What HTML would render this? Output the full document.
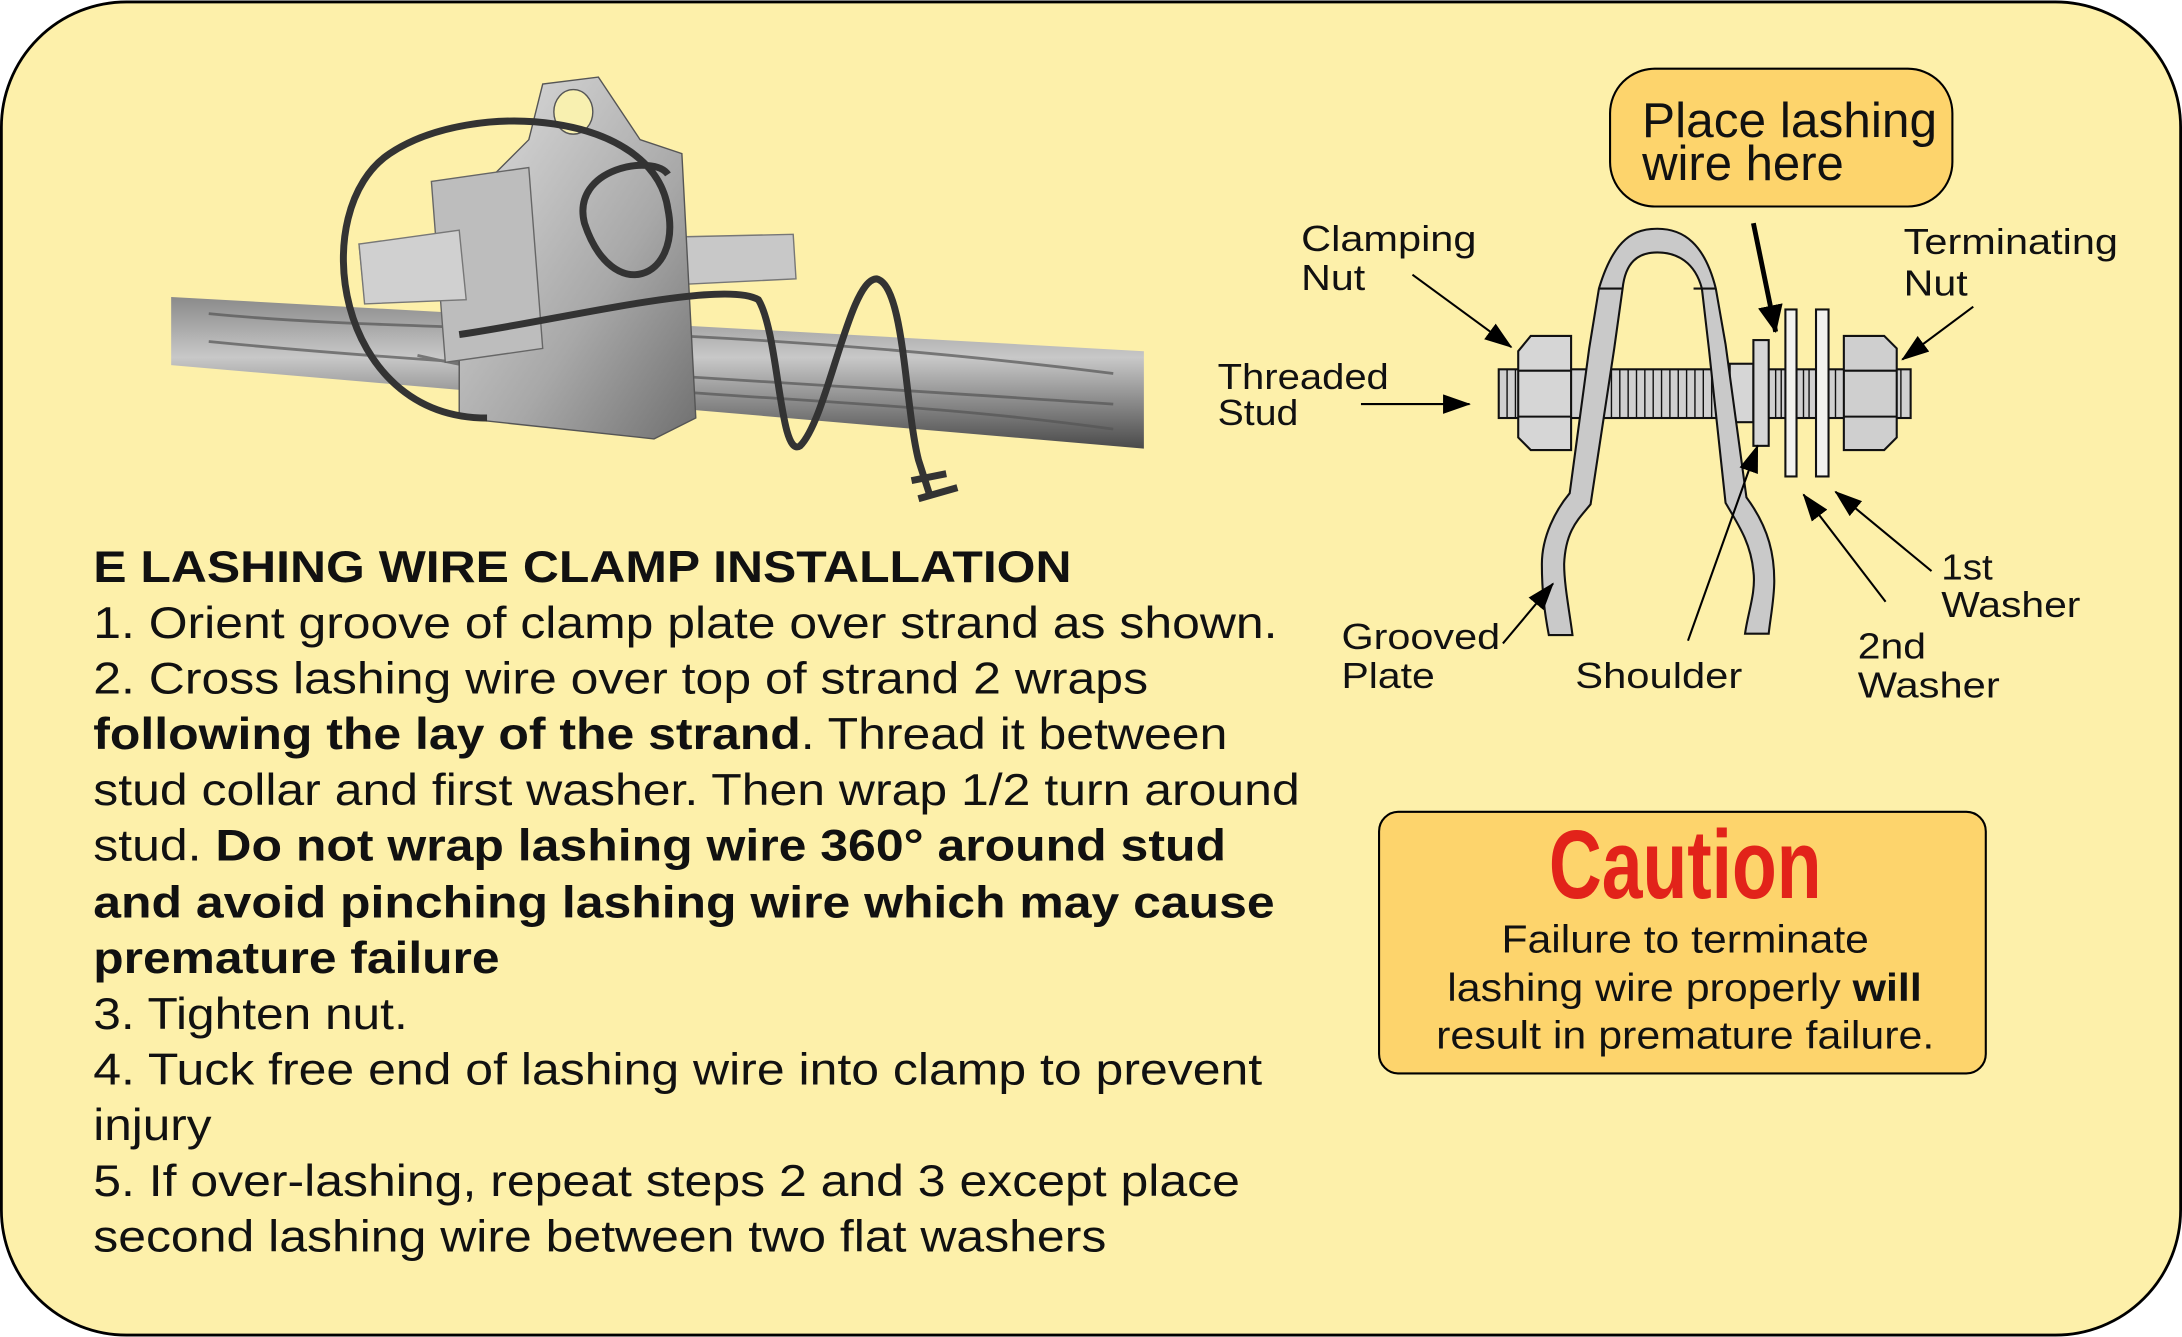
<!DOCTYPE html>
<html><head><meta charset="utf-8"><style>
html,body{margin:0;padding:0;background:#fff}
svg{display:block}
text{font-family:"Liberation Sans",Arial,sans-serif;fill:#111}
</style></head><body>
<svg width="2182" height="1337" viewBox="0 0 1568 960" xmlns="http://www.w3.org/2000/svg">
<defs>
<marker id="ah" viewBox="0 0 20 14" refX="19" refY="7" markerUnits="userSpaceOnUse" markerWidth="20" markerHeight="14" orient="auto"><path d="M0,0 L20,7 L0,14 z" fill="#000"/></marker>
<marker id="ah2" viewBox="0 0 20 18" refX="19" refY="9" markerUnits="userSpaceOnUse" markerWidth="20" markerHeight="18" orient="auto"><path d="M0,0 L20,9 L0,18 z" fill="#000"/></marker>
<linearGradient id="sg" x1="0" y1="0" x2="0" y2="1"><stop offset="0" stop-color="#8a8a8a"/><stop offset=".4" stop-color="#c8c8c8"/><stop offset="1" stop-color="#4a4a4a"/></linearGradient>
<linearGradient id="cg" x1="0" y1="0" x2="1" y2="1"><stop offset="0" stop-color="#e0e0e0"/><stop offset=".6" stop-color="#a8a8a8"/><stop offset="1" stop-color="#707070"/></linearGradient>
</defs>
<rect x="1" y="1" width="1566" height="958" rx="90" fill="#fdf0aa" stroke="#000" stroke-width="2"/>

<!-- photo approximation -->
<polygon points="123,213 822,252 822,322 123,262" fill="url(#sg)"/>
<g stroke="#555" stroke-width="2" opacity=".7" fill="none">
<path d="M150,225 C300,240 500,230 800,268"/><path d="M150,245 C300,260 500,270 800,290"/><path d="M300,255 C450,290 600,280 800,308"/>
</g>
<polygon points="258,175 570,168 572,200 262,215" fill="#c8c8c8" stroke="#777"/>
<polygon points="380,100 390,60 430,55 460,100 490,110 500,300 470,315 330,300 330,150" fill="url(#cg)" stroke="#555"/>
<polygon points="310,130 380,120 390,250 320,260" fill="#bdbdbd" stroke="#666"/>
<polygon points="258,175 330,165 335,215 262,218" fill="#d0d0d0" stroke="#777"/>
<ellipse cx="412" cy="80" rx="14" ry="16" fill="#f8f0b0" stroke="#555"/>
<path d="M350,300 C240,300 220,150 280,110 C340,70 470,80 480,150 C490,200 440,220 420,160 C410,120 470,110 480,125" fill="none" stroke="#333" stroke-width="5"/>
<path d="M330,240 C400,230 520,200 545,215 C560,240 560,330 575,320 C595,300 610,200 630,200 C650,205 650,290 660,330 L668,355" fill="none" stroke="#333" stroke-width="5"/>
<path d="M655,345 L680,340 M660,358 L688,350" stroke="#333" stroke-width="5"/>

<!-- text block -->
<g font-size="32">
<text x="67" y="418" font-weight="bold" textLength="703" lengthAdjust="spacingAndGlyphs">E LASHING WIRE CLAMP INSTALLATION</text>
<text x="67" y="458" textLength="851" lengthAdjust="spacingAndGlyphs">1. Orient groove of clamp plate over strand as shown.</text>
<text x="67" y="498" textLength="758" lengthAdjust="spacingAndGlyphs">2. Cross lashing wire over top of strand 2 wraps</text>
<text x="67" y="538" textLength="815" lengthAdjust="spacingAndGlyphs"><tspan font-weight="bold">following the lay of the strand</tspan>. Thread it between</text>
<text x="67" y="578" textLength="867" lengthAdjust="spacingAndGlyphs">stud collar and first washer. Then wrap 1/2 turn around</text>
<text x="67" y="618" textLength="814" lengthAdjust="spacingAndGlyphs">stud. <tspan font-weight="bold">Do not wrap lashing wire 360° around stud</tspan></text>
<text x="67" y="659" font-weight="bold" textLength="849" lengthAdjust="spacingAndGlyphs">and avoid pinching lashing wire which may cause</text>
<text x="67" y="699" font-weight="bold" textLength="292" lengthAdjust="spacingAndGlyphs">premature failure</text>
<text x="67" y="739" textLength="226" lengthAdjust="spacingAndGlyphs">3. Tighten nut.</text>
<text x="67" y="779" textLength="840" lengthAdjust="spacingAndGlyphs">4. Tuck free end of lashing wire into clamp to prevent</text>
<text x="67" y="819" textLength="85" lengthAdjust="spacingAndGlyphs">injury</text>
<text x="67" y="859" textLength="824" lengthAdjust="spacingAndGlyphs">5. If over-lashing, repeat steps 2 and 3 except place</text>
<text x="67" y="899" textLength="728" lengthAdjust="spacingAndGlyphs">second lashing wire between two flat washers</text>
</g>

<!-- place lashing box -->
<rect x="1157" y="49" width="246" height="99" rx="32" fill="#fdd46c" stroke="#000" stroke-width="1.5"/>
<text x="1180" y="98" font-size="35" fill="#222" textLength="212" lengthAdjust="spacingAndGlyphs">Place lashing</text>
<text x="1180" y="129" font-size="35" fill="#222" textLength="145" lengthAdjust="spacingAndGlyphs">wire here</text>

<!-- diagram -->
<g stroke="#111" stroke-width="1.5">
<rect x="1077" y="265" width="296" height="35" fill="#d0d0d0"/>
<g stroke-width="1">
<path d="M1083,265v35M1089,265v35M1095,265v35M1140,265v35M1146,265v35M1152,265v35M1158,265v35M1164,265v35M1170,265v35M1176,265v35M1182,265v35M1188,265v35M1194,265v35M1200,265v35M1206,265v35M1212,265v35M1218,265v35M1224,265v35M1230,265v35M1236,265v35M1276,265v35M1280,265v35M1296,265v35M1300,265v35M1319,265v35M1366,265v35"/>
</g>
<path d="M1091,252 L1100,241 L1129,241 L1129,323 L1100,323 L1091,314 Z" fill="#d6d6d6"/>
<line x1="1091" y1="266" x2="1129" y2="266"/><line x1="1091" y1="299" x2="1129" y2="299"/>
<path d="M1325,241 L1354,241 L1363,250 L1363,314 L1354,323 L1325,323 Z" fill="#cfcfcf"/>
<line x1="1325" y1="266" x2="1363" y2="266"/><line x1="1325" y1="299" x2="1363" y2="299"/>
<rect x="1243" y="261" width="17" height="42" fill="#d6d6d6"/>
<rect x="1260" y="244" width="11" height="76" fill="#d6d6d6"/>
<rect x="1283" y="222" width="8" height="120" fill="#f2f2ee"/>
<rect x="1305" y="222" width="9" height="120" fill="#f2f2ee"/>
<path d="M1149,207 C1160,170 1175,164 1191,164 C1210,164 1225,175 1233,207 L1240,247 L1255,357 C1272,380 1275,400 1275,417 C1275,430 1272,445 1271,455 L1254,455 C1256,440 1262,425 1260,410 C1258,390 1250,378 1240,361 L1228,250 L1223,207 C1218,188 1205,181 1191,181 C1177,181 1168,188 1166,207 L1160,250 L1143,362 C1135,372 1125,380 1124,405 C1124,420 1128,440 1130,456 L1113,456 C1110,440 1108,425 1108,405 C1108,385 1118,366 1128,354 L1142,250 Z" fill="#c9c9c9"/>
<line x1="1149" y1="207" x2="1166" y2="207"/><line x1="1217" y1="207" x2="1233" y2="207"/>
</g>
<g stroke="#000" stroke-width="1.5" fill="none">
<line x1="1015" y1="197" x2="1086" y2="249" marker-end="url(#ah)"/>
<line x1="978" y1="290" x2="1056" y2="290" marker-end="url(#ah)"/>
<line x1="1260" y1="160" x2="1276" y2="238" stroke-width="3.5" marker-end="url(#ah2)"/>
<line x1="1418" y1="220" x2="1367" y2="258" marker-end="url(#ah)"/>
<line x1="1080" y1="462" x2="1116" y2="419" marker-end="url(#ah)"/>
<line x1="1213" y1="460" x2="1263" y2="320" marker-end="url(#ah)"/>
<line x1="1355" y1="432" x2="1296" y2="355" marker-end="url(#ah)"/>
<line x1="1388" y1="410" x2="1319" y2="353" marker-end="url(#ah)"/>
</g>
<g font-size="26">
<text x="935" y="180" textLength="126" lengthAdjust="spacingAndGlyphs">Clamping</text><text x="935" y="208" textLength="46" lengthAdjust="spacingAndGlyphs">Nut</text>
<text x="1368" y="182" textLength="154" lengthAdjust="spacingAndGlyphs">Terminating</text><text x="1368" y="212" textLength="46" lengthAdjust="spacingAndGlyphs">Nut</text>
<text x="875" y="279" textLength="123" lengthAdjust="spacingAndGlyphs">Threaded</text><text x="875" y="305" textLength="58" lengthAdjust="spacingAndGlyphs">Stud</text>
<text x="964" y="466" textLength="114" lengthAdjust="spacingAndGlyphs">Grooved</text><text x="964" y="494" textLength="67" lengthAdjust="spacingAndGlyphs">Plate</text>
<text x="1132" y="494" textLength="120" lengthAdjust="spacingAndGlyphs">Shoulder</text>
<text x="1335" y="473" textLength="49" lengthAdjust="spacingAndGlyphs">2nd</text><text x="1335" y="501" textLength="102" lengthAdjust="spacingAndGlyphs">Washer</text>
<text x="1395" y="416" textLength="37" lengthAdjust="spacingAndGlyphs">1st</text><text x="1395" y="443" textLength="100" lengthAdjust="spacingAndGlyphs">Washer</text>
</g>

<!-- caution -->
<rect x="991" y="583" width="436" height="188" rx="14" fill="#fdd46c" stroke="#000" stroke-width="1.5"/>
<text x="1113" y="645" font-family="'Liberation Sans Narrow','Liberation Sans',sans-serif" font-weight="bold" font-size="70" style="fill:#e2231a" textLength="196" lengthAdjust="spacingAndGlyphs">Caution</text>
<g font-size="28">
<text x="1079" y="684" textLength="264" lengthAdjust="spacingAndGlyphs">Failure to terminate</text>
<text x="1040" y="719" textLength="341" lengthAdjust="spacingAndGlyphs">lashing wire properly <tspan font-weight="bold">will</tspan></text>
<text x="1032" y="753" textLength="358" lengthAdjust="spacingAndGlyphs">result in premature failure.</text>
</g>
</svg>
</body></html>
